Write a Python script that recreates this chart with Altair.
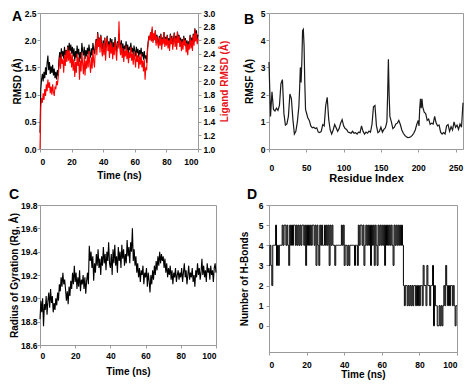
import altair as alt
import pandas as pd

FONT = "Liberation Sans"

# ---------------- data ----------------
time_ns = [i * 0.5 for i in range(201)]

protein_rmsd = [
    0.30, 1.10, 1.28, 1.38, 1.24, 1.42, 1.30, 1.50, 1.36, 1.58,
    1.72, 1.45, 1.60, 1.38, 1.52, 1.40, 1.55, 1.35, 1.48, 1.30,
    1.42, 1.28, 1.45, 1.35, 1.65, 1.78, 1.62, 1.85, 1.70, 1.80,
    1.66, 1.88, 1.72, 1.82, 1.68, 1.90, 1.78, 1.95, 1.80, 1.92,
    1.75, 1.88, 1.70, 1.85, 1.62, 1.80, 1.68, 1.90, 1.74, 1.84,
    1.60, 1.78, 1.66, 1.95, 1.80, 1.72, 1.88, 1.65, 1.82, 1.70,
    1.86, 1.74, 1.92, 1.78, 1.68, 1.85, 1.72, 1.95, 1.82, 1.75,
    1.90, 2.02, 1.85, 2.15, 1.95, 2.05, 1.88, 2.10, 1.92, 1.84,
    2.00, 1.86, 2.05, 1.78, 1.95, 2.08, 1.90, 1.98, 1.82, 2.04,
    1.88, 2.02, 1.80, 1.96, 1.85, 2.06, 1.90, 1.78, 1.98, 1.88,
    2.12, 1.95, 1.85, 2.00, 1.82, 1.94, 1.76, 1.90, 1.84, 1.98,
    1.80, 1.92, 1.74, 1.88, 1.82, 1.95, 1.78, 1.86, 1.72, 1.90,
    1.80, 1.70, 1.88, 1.76, 1.84, 1.68, 1.82, 1.74, 1.86, 1.70,
    1.78, 1.64, 1.80, 1.66, 1.72, 1.58, 1.85, 1.98, 2.08, 2.00,
    2.15, 2.05, 2.20, 1.98, 2.12, 2.02, 2.18, 1.95, 2.10, 2.00,
    1.92, 2.08, 1.96, 2.12, 1.90, 2.05, 1.98, 2.15, 1.94, 2.06,
    1.96, 2.10, 1.92, 2.04, 1.88, 2.12, 1.98, 2.08, 1.90, 2.02,
    2.14, 1.95, 2.08, 1.90, 2.16, 2.00, 2.10, 1.94, 2.05, 1.88,
    2.02, 1.92, 2.08, 1.96, 2.04, 1.88, 2.00, 1.85, 1.98, 1.92,
    2.10, 1.94, 2.05, 1.90, 2.12, 1.96, 2.22, 2.05, 2.18, 2.02,
    2.10,
]

ligand_rmsd = [
    1.00, 1.62, 1.75, 1.68, 1.82, 1.72, 1.88, 1.78, 1.95, 1.85,
    2.02, 1.90, 1.98, 1.82, 1.92, 1.80, 1.95, 1.84, 1.78, 1.92,
    1.88, 2.00, 1.94, 2.05, 2.20, 2.35, 2.18, 2.40, 2.25, 2.32,
    2.12, 2.38, 2.22, 2.44, 2.28, 2.50, 2.30, 2.45, 2.26, 2.42,
    2.20, 2.38, 2.15, 2.32, 2.06, 2.28, 2.12, 2.40, 2.22, 2.35,
    2.02, 2.30, 2.14, 2.42, 2.25, 2.10, 2.36, 2.08, 2.30, 2.18,
    2.38, 2.20, 2.44, 2.25, 2.12, 2.35, 2.18, 2.46, 2.28, 2.20,
    2.48, 2.60, 2.38, 2.70, 2.50, 2.63, 2.42, 2.66, 2.46, 2.36,
    2.56, 2.38, 2.63, 2.30, 2.50, 2.64, 2.44, 2.54, 2.34, 2.58,
    2.40, 2.56, 2.32, 2.50, 2.38, 2.60, 2.44, 2.30, 2.56, 2.48,
    2.88, 2.48, 2.38, 2.54, 2.34, 2.48, 2.28, 2.44, 2.36, 2.52,
    2.32, 2.46, 2.26, 2.42, 2.34, 2.50, 2.30, 2.40, 2.24, 2.44,
    2.32, 2.20, 2.42, 2.28, 2.38, 2.18, 2.36, 2.24, 2.40, 2.20,
    2.30, 2.14, 2.32, 2.02, 2.20, 2.16, 2.42, 2.56, 2.66, 2.60,
    2.72, 2.58, 2.80, 2.56, 2.70, 2.60, 2.74, 2.52, 2.66, 2.56,
    2.48, 2.64, 2.52, 2.68, 2.46, 2.62, 2.54, 2.72, 2.50, 2.62,
    2.52, 2.66, 2.48, 2.60, 2.44, 2.68, 2.54, 2.64, 2.46, 2.58,
    2.70, 2.50, 2.64, 2.46, 2.72, 2.56, 2.66, 2.50, 2.60, 2.44,
    2.58, 2.46, 2.64, 2.52, 2.60, 2.42, 2.56, 2.38, 2.54, 2.46,
    2.66, 2.48, 2.60, 2.44, 2.68, 2.52, 2.76, 2.58, 2.70, 2.54,
    2.62,
]

residue_index = [
    0, 2, 4, 6, 8, 10, 12, 14, 16, 18, 20, 22, 24, 26, 28, 30, 32, 34, 36, 38,
    40, 41, 42, 43, 44, 45, 46, 47, 48, 49, 50, 52, 54, 56, 58, 60, 62, 64, 66, 68,
    70, 72, 74, 76, 78, 80, 82, 84, 86, 88, 90, 92, 94, 96, 98, 100, 102, 104, 106, 108,
    110, 112, 114, 116, 118, 120, 122, 124, 126, 128, 130, 132, 134, 136, 138, 140, 142, 144, 146, 148,
    150, 152, 154, 156, 158, 159, 160, 161, 162, 164, 166, 168, 170, 172, 174, 176, 178, 180, 182, 184,
    186, 188, 190, 192, 194, 196, 198, 200, 201, 202, 203, 204, 205, 206, 208, 210, 212, 214, 216, 218,
    220, 222, 224, 226, 228, 230, 232, 234, 236, 238, 240, 242, 244, 246, 248, 250, 252, 254, 256, 258,
    260,
]
rmsf = [
    3.20, 1.20, 2.10, 1.45, 1.40, 1.50, 1.42, 1.60, 2.40, 2.55, 1.30, 0.88, 0.92, 1.20, 2.02, 1.85, 1.10, 0.55, 0.65, 1.00,
    1.55, 2.20, 3.00, 2.45, 3.20, 4.35, 4.40, 3.80, 2.40, 1.45, 1.35, 1.15, 1.05, 0.85, 0.78, 0.80, 0.75, 0.78, 0.62, 0.60,
    0.65, 0.90, 0.85, 1.60, 1.90, 1.10, 0.70, 0.55, 0.70, 0.90, 0.78, 0.65, 0.75, 0.95, 1.08, 0.85, 0.75, 0.72, 0.62, 0.60,
    0.58, 0.65, 0.58, 0.60, 0.55, 0.62, 0.60, 0.85, 0.65, 0.55, 0.62, 0.58, 0.66, 0.62, 0.90, 1.55, 1.60, 0.85, 0.60, 0.65,
    0.80, 0.62, 0.72, 0.78, 1.00, 2.00, 3.30, 2.00, 1.20, 1.00, 0.75, 0.80, 0.92, 0.95, 1.05, 0.90, 0.70, 0.58, 0.50, 0.45,
    0.42, 0.43, 0.45, 0.50, 0.58, 0.70, 0.90, 1.05, 0.85, 1.50, 1.85, 1.50, 1.85, 1.55, 1.35, 1.30, 1.05, 1.10, 0.90, 0.95,
    0.92, 1.20, 0.95, 0.85, 0.88, 0.62, 0.55, 0.60, 0.55, 0.85, 0.90, 0.65, 0.82, 0.70, 1.00, 0.80, 0.88, 0.72, 0.92, 0.80,
    1.70,
]

radius_gyration = [
    18.82, 18.98, 18.88, 19.00, 18.76, 18.95, 18.90, 19.02, 18.86, 18.98,
    19.05, 18.92, 19.08, 18.96, 19.02, 18.88, 18.96, 18.90, 19.00, 18.94,
    19.05, 18.98, 19.12, 19.06, 19.18, 19.10, 19.22, 19.12, 19.16, 19.08,
    18.98, 19.06, 18.95, 19.10, 19.02, 19.15, 19.08, 19.22, 19.12, 19.28,
    19.14, 19.22, 19.08, 19.18, 19.10, 19.24, 19.06, 19.16, 19.12, 19.20,
    19.08, 19.18, 19.04, 19.15, 19.22, 19.12, 19.45, 19.32, 19.40, 19.26,
    19.36, 19.15, 19.30, 19.22, 19.38, 19.28, 19.42, 19.26, 19.34, 19.20,
    19.36, 19.28, 19.44, 19.30, 19.38, 19.24, 19.40, 19.32, 19.48, 19.30,
    19.26, 19.38, 19.20, 19.42, 19.30, 19.46, 19.28, 19.36, 19.22, 19.44,
    19.32, 19.40, 19.26, 19.46, 19.34, 19.42, 19.28, 19.38, 19.30, 19.50,
    19.36, 19.44, 19.30, 19.48, 19.40, 19.60, 19.32, 19.42, 19.28, 19.36,
    19.22, 19.30, 19.18, 19.26, 19.14, 19.24, 19.20, 19.28, 19.12, 19.22,
    19.18, 19.26, 19.10, 19.22, 19.15, 19.05, 19.20, 19.12, 19.24, 19.16,
    19.28, 19.20, 19.32, 19.24, 19.36, 19.28, 19.40, 19.30, 19.38, 19.32,
    19.36, 19.26, 19.34, 19.22, 19.30, 19.18, 19.26, 19.20, 19.28, 19.16,
    19.24, 19.12, 19.22, 19.18, 19.26, 19.14, 19.20, 19.24, 19.16, 19.22,
    19.18, 19.26, 19.14, 19.22, 19.30, 19.18, 19.24, 19.12, 19.20, 19.28,
    19.16, 19.22, 19.18, 19.26, 19.14, 19.20, 19.10, 19.24, 19.18, 19.30,
    19.20, 19.26, 19.16, 19.22, 19.34, 19.20, 19.28, 19.18, 19.24, 19.14,
    19.30, 19.22, 19.26, 19.16, 19.28, 19.20, 19.24, 19.14, 19.26, 19.30,
    19.22,
]

h_bonds = [
    3, 4, 3, 2, 4, 4, 4, 5, 3, 4,
    3, 4, 4, 4, 5, 4, 5, 5, 4, 5,
    4, 3, 5, 4, 5, 4, 5, 5, 4, 5,
    4, 5, 4, 5, 4, 5, 5, 4, 5, 3,
    5, 4, 5, 4, 5, 4, 5, 5, 4, 5,
    3, 5, 4, 3, 5, 4, 5, 4, 4, 5,
    4, 5, 4, 5, 3, 5, 4, 5, 4, 4,
    3, 4, 4, 4, 4, 4, 4, 5, 4, 5,
    3, 4, 4, 3, 4, 3, 4, 4, 4, 4,
    4, 3, 4, 4, 3, 5, 4, 5, 5, 4,
    5, 3, 4, 5, 4, 5, 4, 5, 3, 5,
    4, 5, 3, 5, 4, 3, 5, 4, 5, 4,
    5, 4, 5, 3, 5, 4, 5, 4, 5, 4,
    5, 4, 3, 5, 4, 5, 4, 5, 4, 5,
    4, 5, 4, 2, 1, 2, 2, 1, 2, 1,
    2, 1, 2, 1, 2, 2, 1, 2, 1, 2,
    1, 2, 2, 1, 3, 2, 2, 1, 3, 2,
    2, 1, 2, 2, 3, 0, 2, 1, 1, 0,
    0, 1, 0, 1, 0, 1, 2, 1, 3, 2,
    1, 2, 1, 2, 2, 1, 2, 1, 0, 1,
    1,
]

# ---------------- helpers ----------------
GRAY = "#9a9a9a"


def axis(**kw):
    base = dict(
        labelFont=FONT, labelFontSize=8.5, labelFontWeight="bold", labelColor="black",
        titleFont=FONT, titleFontSize=10, titleFontWeight="bold", titleColor="black",
        grid=False, domainColor=GRAY, tickColor=GRAY, tickSize=3,
    )
    base.update(kw)
    return alt.Axis(**base)


def letter(ch, dx, dy):
    return alt.Chart(pd.DataFrame({"lab": [ch]})).mark_text(
        font=FONT, fontSize=14, fontWeight="bold", align="left",
        baseline="alphabetic", color="black",
    ).encode(text="lab:N", x=alt.value(dx), y=alt.value(dy))


TIME_TICKS = [0, 20, 40, 60, 80, 100]

# ---------------- panel A ----------------
dfA = pd.DataFrame({"t": time_ns, "p": protein_rmsd, "l": ligand_rmsd})
xA = alt.X("t:Q", scale=alt.Scale(domain=[0, 100], nice=False),
           axis=axis(values=TIME_TICKS, title="Time (ns)", labelPadding=5, titlePadding=5))
a_black = alt.Chart(dfA).mark_line(color="black", strokeWidth=1.1).encode(
    x=xA,
    y=alt.Y("p:Q", scale=alt.Scale(domain=[0, 2.5], nice=False),
            axis=axis(orient="left", values=[0, 0.5, 1.0, 1.5, 2.0, 2.5], format=".1f",
                      title="RMSD (Å)", labelPadding=1, titlePadding=2)),
)
a_red = alt.Chart(dfA).mark_line(color="#ff0000", strokeWidth=1.1).encode(
    x=xA,
    y=alt.Y("l:Q", scale=alt.Scale(domain=[1, 3], nice=False),
            axis=axis(orient="right",
                      values=[1.0, 1.2, 1.4, 1.6, 1.8, 2.0, 2.2, 2.4, 2.6, 2.8, 3.0],
                      format=".1f", title="Ligand RMSD (Å)", titleColor="#e8141b",
                      titleAngle=270, titleBaseline="top",
                      labelPadding=2, titlePadding=5)),
)
A = alt.layer(a_black, a_red, letter("A", -28, 8)).resolve_scale(y="independent").properties(
    width=158, height=136)

# ---------------- panel B ----------------
dfB = pd.DataFrame({"res": residue_index, "rmsf": rmsf})
b_line = alt.Chart(dfB).mark_line(color="#1a1a1a", strokeWidth=1.2).encode(
    x=alt.X("res:Q", scale=alt.Scale(domain=[0, 260], nice=False),
            axis=axis(values=[0, 50, 100, 150, 200, 250], title="Residue Index",
                      titleFontSize=11, labelPadding=11, titlePadding=1)),
    y=alt.Y("rmsf:Q", scale=alt.Scale(domain=[0, 5], nice=False),
            axis=axis(values=[0, 1, 2, 3, 4, 5], format="d", title="RMSF (Å)",
                      labelPadding=1, titlePadding=6)),
)
B = alt.layer(b_line, letter("B", -25, 11)).properties(width=194, height=136)

# ---------------- panel C ----------------
dfC = pd.DataFrame({"t": time_ns, "rg": radius_gyration})
c_line = alt.Chart(dfC).mark_line(color="black", strokeWidth=1.1).encode(
    x=alt.X("t:Q", scale=alt.Scale(domain=[0, 100], nice=False),
            axis=axis(values=TIME_TICKS, title="Time (ns)", labelPadding=3, titlePadding=7)),
    y=alt.Y("rg:Q", scale=alt.Scale(domain=[18.6, 19.8], nice=False),
            axis=axis(values=[18.6, 18.8, 19.0, 19.2, 19.4, 19.6, 19.8], format=".1f",
                      title="Radius of Gyration (Rg, Å)", labelPadding=0, titlePadding=1)),
)
C = alt.layer(c_line, letter("C", -31, -6)).properties(width=176, height=140)

# ---------------- panel D ----------------
dfD = pd.DataFrame({"t": time_ns, "hb": h_bonds})
d_line = alt.Chart(dfD).mark_line(color="black", strokeWidth=1, interpolate="step-after").encode(
    x=alt.X("t:Q", scale=alt.Scale(domain=[0, 100], nice=False),
            axis=axis(values=TIME_TICKS, title="Time (ns)", labelPadding=5, titlePadding=1)),
    y=alt.Y("hb:Q", scale=alt.Scale(domain=[-1.3, 6], nice=False),
            axis=axis(values=[0, 1, 2, 3, 4, 5, 6], format="d", title="Number of H-Bonds",
                      labelPadding=3, titlePadding=9)),
)
D = alt.layer(d_line, letter("D", -22, -6)).properties(width=188, height=147)

chart = alt.concat(A, B, C, D, columns=2, align="each", bounds="flush",
                   spacing={"row": 56, "column": 53}).properties(padding=0).configure_view(
    stroke=GRAY, strokeWidth=1)

chart.save("out.html", embed_options={"renderer": "svg", "actions": False})
